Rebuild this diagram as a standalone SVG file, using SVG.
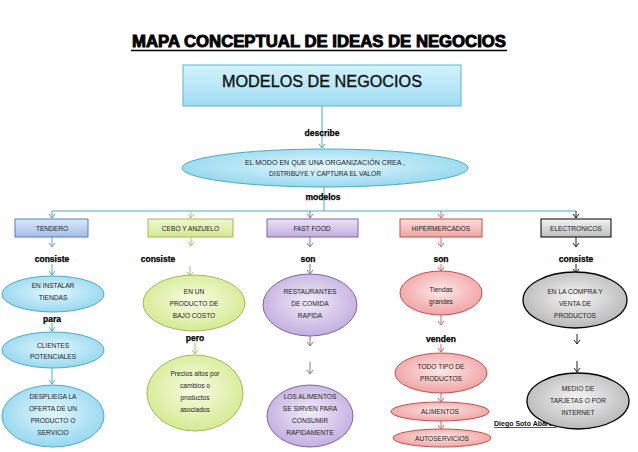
<svg xmlns="http://www.w3.org/2000/svg" width="638" height="452" viewBox="0 0 638 452">
<defs>
<linearGradient id="gTop" x1="0" y1="0" x2="0" y2="1"><stop offset="0" stop-color="#d3f3fc"/><stop offset="1" stop-color="#9edcf2"/></linearGradient>
<linearGradient id="gBlue" x1="0" y1="0" x2="0" y2="1"><stop offset="0" stop-color="#dde7f8"/><stop offset="1" stop-color="#a3bdec"/></linearGradient>
<linearGradient id="gGreen" x1="0" y1="0" x2="0" y2="1"><stop offset="0" stop-color="#eff7d2"/><stop offset="1" stop-color="#d3e98e"/></linearGradient>
<linearGradient id="gPurple" x1="0" y1="0" x2="0" y2="1"><stop offset="0" stop-color="#ebe3f4"/><stop offset="1" stop-color="#c2ade0"/></linearGradient>
<linearGradient id="gRed" x1="0" y1="0" x2="0" y2="1"><stop offset="0" stop-color="#fbdede"/><stop offset="1" stop-color="#f0a3a3"/></linearGradient>
<linearGradient id="gGrey" x1="0" y1="0" x2="0" y2="1"><stop offset="0" stop-color="#f4f4f4"/><stop offset="1" stop-color="#bdbdbd"/></linearGradient>
<radialGradient id="rCyan" cx="0.5" cy="0.45" r="0.6"><stop offset="0" stop-color="#e4f7fd"/><stop offset="1" stop-color="#8fd5ee"/></radialGradient>
<radialGradient id="rGreen" cx="0.5" cy="0.45" r="0.6"><stop offset="0" stop-color="#f8fbe4"/><stop offset="1" stop-color="#d2e98a"/></radialGradient>
<radialGradient id="rPurple" cx="0.5" cy="0.45" r="0.6"><stop offset="0" stop-color="#f1ecf8"/><stop offset="1" stop-color="#bfa9de"/></radialGradient>
<radialGradient id="rRed" cx="0.5" cy="0.45" r="0.6"><stop offset="0" stop-color="#fde8e8"/><stop offset="1" stop-color="#ef9d9d"/></radialGradient>
<radialGradient id="rGrey" cx="0.5" cy="0.45" r="0.6"><stop offset="0" stop-color="#f5f5f5"/><stop offset="1" stop-color="#b3b3b3"/></radialGradient>
<marker id="mT" markerUnits="userSpaceOnUse" markerWidth="8" markerHeight="6" refX="4" refY="5" orient="0"><path d="M1,1 L4,5 L7,1" fill="none" stroke="#4bacc6" stroke-width="1"/></marker>
<marker id="mB" markerUnits="userSpaceOnUse" markerWidth="8" markerHeight="6" refX="4" refY="5" orient="0"><path d="M1,1 L4,5 L7,1" fill="none" stroke="#6fa0d8" stroke-width="1"/></marker>
<marker id="mG" markerUnits="userSpaceOnUse" markerWidth="8" markerHeight="6" refX="4" refY="5" orient="0"><path d="M1,1 L4,5 L7,1" fill="none" stroke="#a9c55e" stroke-width="1"/></marker>
<marker id="mP" markerUnits="userSpaceOnUse" markerWidth="8" markerHeight="6" refX="4" refY="5" orient="0"><path d="M1,1 L4,5 L7,1" fill="none" stroke="#8a72ad" stroke-width="1"/></marker>
<marker id="mR" markerUnits="userSpaceOnUse" markerWidth="8" markerHeight="6" refX="4" refY="5" orient="0"><path d="M1,1 L4,5 L7,1" fill="none" stroke="#d46a68" stroke-width="1"/></marker>
<marker id="mK" markerUnits="userSpaceOnUse" markerWidth="8" markerHeight="6" refX="4" refY="5" orient="0"><path d="M1,1 L4,5 L7,1" fill="none" stroke="#222" stroke-width="1"/></marker>
</defs>
<style>
.t{font-family:"Liberation Sans",Arial,sans-serif;font-size:6.6px;fill:#222;text-anchor:middle}
.lb{font-family:"Liberation Sans",Arial,sans-serif;font-size:8.5px;font-weight:bold;fill:#000;text-anchor:middle;stroke:#000;stroke-width:0.25}
.cT{stroke:#4bacc6;stroke-width:1;fill:none;marker-end:url(#mT)}
.cB{stroke:#6fa0d8;stroke-width:1;fill:none;marker-end:url(#mB)}
.cG{stroke:#a9c55e;stroke-width:1;fill:none;marker-end:url(#mG)}
.cP{stroke:#8a72ad;stroke-width:1;fill:none;marker-end:url(#mP)}
.cR{stroke:#d46a68;stroke-width:1;fill:none;marker-end:url(#mR)}
.cK{stroke:#222;stroke-width:1;fill:none;marker-end:url(#mK)}
</style>
<rect width="638" height="452" fill="#fff"/>

<g id="title">
<text x="319" y="47" font-family="'Liberation Sans',Arial,sans-serif" font-size="16" font-weight="bold" text-anchor="middle" stroke="#000" stroke-width="0.9" textLength="374" lengthAdjust="spacingAndGlyphs">MAPA CONCEPTUAL DE IDEAS DE NEGOCIOS</text>
<line x1="131" y1="50.5" x2="507" y2="50.5" stroke="#000" stroke-width="1.6"/>
</g>

<g id="connectors">
<line class="cT" x1="322" y1="106" x2="322" y2="148"/>
<line x1="324" y1="187" x2="324" y2="211" stroke="#4bacc6" stroke-width="1"/>
<line x1="52" y1="211" x2="576" y2="211" stroke="#4bacc6" stroke-width="1"/>
<line class="cT" x1="52" y1="211" x2="52" y2="218"/>
<line class="cG" x1="191" y1="211" x2="191" y2="218"/>
<line class="cP" x1="310" y1="211" x2="310" y2="218"/>
<line class="cR" x1="441" y1="211" x2="441" y2="218"/>
<line class="cK" x1="576" y1="211" x2="576" y2="218"/>

<line class="cB" x1="52" y1="237" x2="52" y2="247"/>
<line class="cT" x1="52" y1="264" x2="52" y2="275"/>
<line class="cT" x1="52" y1="323" x2="52" y2="331"/>
<line class="cT" x1="52" y1="368" x2="52" y2="384"/>

<line class="cG" x1="191" y1="237" x2="191" y2="246"/>
<line class="cG" x1="190" y1="266" x2="190" y2="276"/>
<line class="cG" x1="195" y1="343" x2="195" y2="354"/>

<line class="cP" x1="310" y1="237" x2="310" y2="247"/>
<line class="cP" x1="310" y1="264" x2="310" y2="274"/>
<line class="cP" x1="310" y1="336" x2="310" y2="346"/>
<line class="cP" x1="310" y1="362" x2="310" y2="374"/>

<line class="cR" x1="441" y1="237" x2="441" y2="247"/>
<line class="cR" x1="441" y1="264" x2="441" y2="271"/>
<line class="cR" x1="441" y1="315" x2="441" y2="325"/>
<line class="cR" x1="441" y1="344" x2="441" y2="352"/>
<line class="cR" x1="441" y1="393" x2="441" y2="402"/>
<line class="cR" x1="441" y1="421" x2="441" y2="429"/>

<line class="cK" x1="576" y1="237" x2="576" y2="247"/>
<line class="cK" x1="576" y1="264" x2="576" y2="273"/>
<line class="cK" x1="577" y1="334" x2="577" y2="344"/>
<line class="cK" x1="577" y1="361" x2="577" y2="372"/>
</g>

<g id="labels">
<text class="lb" x="322" y="136">describe</text>
<text class="lb" x="323" y="200">modelos</text>
<text class="lb" x="52" y="262">consiste</text>
<text class="lb" x="158" y="262">consiste</text>
<text class="lb" x="308" y="262">son</text>
<text class="lb" x="441" y="262">son</text>
<text class="lb" x="576" y="262">consiste</text>
<text class="lb" x="52" y="322">para</text>
<text class="lb" x="441" y="342">venden</text>
</g>

<g id="n-modelos">
<rect x="183" y="65" width="278" height="41" fill="url(#gTop)" stroke="#5fb3cc" stroke-width="1"/>
<text x="322" y="87" font-family="'Liberation Sans',Arial,sans-serif" font-size="16" fill="#111" stroke="#111" stroke-width="0.35" text-anchor="middle" textLength="200" lengthAdjust="spacingAndGlyphs">MODELOS DE NEGOCIOS</text>
</g>

<g id="n-modo">
<ellipse cx="325" cy="168" rx="143" ry="19" fill="url(#rCyan)" stroke="#4bacc6" stroke-width="1"/>
<text class="t" x="325" y="165" textLength="160" lengthAdjust="spacingAndGlyphs">EL MODO EN QUE UNA ORGANIZACIÓN CREA ,</text>
<text class="t" x="325" y="176">DISTRIBUYE Y CAPTURA EL VALOR</text>
</g>

<g id="n-tendero">
<rect x="15" y="219" width="73" height="18" fill="url(#gBlue)" stroke="#4f81bd" stroke-width="1"/>
<text class="t" x="52" y="230.5">TENDERO</text>
</g>
<g id="n-cebo">
<rect x="148" y="219" width="85" height="18" fill="url(#gGreen)" stroke="#9bbb59" stroke-width="1"/>
<text class="t" x="190.5" y="230.5">CEBO Y ANZUELO</text>
</g>
<g id="n-fast">
<rect x="267" y="219" width="91" height="18" fill="url(#gPurple)" stroke="#8064a2" stroke-width="1"/>
<text class="t" x="312" y="230.5">FAST FOOD</text>
</g>
<g id="n-hiper">
<rect x="400" y="219" width="82" height="18" fill="url(#gRed)" stroke="#c0504d" stroke-width="1"/>
<text class="t" x="441" y="230.5">HIPERMERCADOS</text>
</g>
<g id="n-electr">
<rect x="541" y="219" width="70" height="18" fill="url(#gGrey)" stroke="#000" stroke-width="1"/>
<text class="t" x="576" y="230.5">ELECTRONICOS</text>
</g>

<g id="n-instalar">
<ellipse cx="53" cy="294" rx="51" ry="18" fill="url(#rCyan)" stroke="#4bacc6" stroke-width="1"/>
<text class="t" x="53" y="288">EN INSTALAR</text>
<text class="t" x="53" y="300">TIENDAS</text>
</g>
<g id="n-clientes">
<ellipse cx="53" cy="350" rx="51" ry="18" fill="url(#rCyan)" stroke="#4bacc6" stroke-width="1"/>
<text class="t" x="53" y="348">CLIENTES</text>
<text class="t" x="53" y="359">POTENCIALES</text>
</g>
<g id="n-despliega">
<ellipse cx="53" cy="416" rx="51" ry="31" fill="url(#rCyan)" stroke="#4bacc6" stroke-width="1"/>
<text class="t" x="53" y="399">DESPLIEGA  LA</text>
<text class="t" x="53" y="411">OFERTA DE UN</text>
<text class="t" x="53" y="423">PRODUCTO O</text>
<text class="t" x="53" y="435">SERVICIO</text>
</g>

<g id="n-bajo">
<ellipse cx="194" cy="303" rx="51" ry="28" fill="url(#rGreen)" stroke="#9bbb59" stroke-width="1"/>
<text class="t" x="194" y="294">EN UN</text>
<text class="t" x="194" y="306">PRODUCTO DE</text>
<text class="t" x="194" y="318">BAJO COSTO</text>
</g>
<g id="l-pero"><text class="lb" x="195" y="341">pero</text></g>
<g id="n-precios">
<ellipse cx="195" cy="393" rx="48" ry="38" fill="url(#rGreen)" stroke="#9bbb59" stroke-width="1"/>
<text class="t" x="195" y="376">Precios altos por</text>
<text class="t" x="195" y="388">cambios o</text>
<text class="t" x="195" y="400">productos</text>
<text class="t" x="195" y="412">asociados</text>
</g>

<g id="n-restaurantes">
<ellipse cx="310" cy="305" rx="47" ry="31" fill="url(#rPurple)" stroke="#8064a2" stroke-width="1"/>
<text class="t" x="310" y="294">RESTAURANTES</text>
<text class="t" x="310" y="306">DE COMIDA</text>
<text class="t" x="310" y="318">RAPIDA</text>
</g>
<g id="n-alimentos-rap">
<ellipse cx="310" cy="416" rx="43" ry="31" fill="url(#rPurple)" stroke="#8064a2" stroke-width="1"/>
<text class="t" x="310" y="399">LOS ALIMENTOS</text>
<text class="t" x="310" y="411">SE SIRVEN PARA</text>
<text class="t" x="310" y="423">CONSUMIR</text>
<text class="t" x="310" y="435">RAPIDAMENTE</text>
</g>

<g id="n-tiendas">
<ellipse cx="441" cy="293" rx="41" ry="22" fill="url(#rRed)" stroke="#c0504d" stroke-width="1"/>
<text class="t" x="441" y="292">Tiendas</text>
<text class="t" x="441" y="304">grandes</text>
</g>
<g id="n-todo">
<ellipse cx="441" cy="373" rx="46" ry="20" fill="url(#rRed)" stroke="#c0504d" stroke-width="1"/>
<text class="t" x="441" y="369">TODO TIPO DE</text>
<text class="t" x="441" y="381">PRODUCTOS</text>
</g>
<g id="n-alimentos">
<ellipse cx="440" cy="411.5" rx="49" ry="9.5" fill="url(#rRed)" stroke="#c0504d" stroke-width="1"/>
<text class="t" x="440" y="414">ALIMENTOS</text>
</g>
<g id="n-autoservicios">
<ellipse cx="442" cy="438" rx="49" ry="9" fill="url(#rRed)" stroke="#c0504d" stroke-width="1"/>
<text class="t" x="442" y="440.5">AUTOSERVICIOS</text>
</g>

<g id="n-compra">
<ellipse cx="575" cy="300" rx="52" ry="28" fill="url(#rGrey)" stroke="#000" stroke-width="1.3"/>
<text class="t" x="575" y="294">EN LA COMPRA Y</text>
<text class="t" x="575" y="306">VENTA DE</text>
<text class="t" x="575" y="318">PRODUCTOS</text>
</g>

<g id="author">
<text x="494" y="426" font-family="'Liberation Sans',Arial,sans-serif" font-size="7" font-weight="bold" fill="#111" text-decoration="underline">Diego Soto Abarca</text>
</g>

<g id="n-medio">
<ellipse cx="578" cy="401" rx="51" ry="28" fill="url(#rGrey)" stroke="#000" stroke-width="1.3"/>
<text class="t" x="578" y="391">MEDIO DE</text>
<text class="t" x="578" y="403">TARJETAS O POR</text>
<text class="t" x="578" y="415">INTERNET</text>
</g>
</svg>
